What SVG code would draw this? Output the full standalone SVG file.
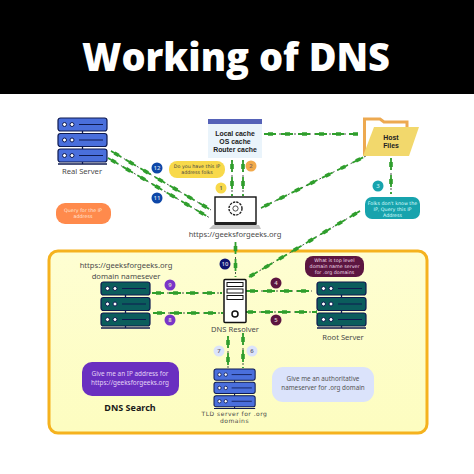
<svg xmlns="http://www.w3.org/2000/svg" width="474" height="474" viewBox="0 0 474 474">
<style>
text{font-family:"Noto Sans","Liberation Sans",sans-serif;text-anchor:middle}
.lbl{font-size:7.6px;fill:#4a4a4a}
.lb2{font-size:6px;fill:#4a4a4a;font-family:"DejaVu Sans",sans-serif;letter-spacing:.5px}
.sm{font-size:4.8px;font-family:"DejaVu Sans",sans-serif}
.b{font-size:6.9px;font-weight:700;fill:#222;font-family:"Liberation Sans",sans-serif}
.n{font-size:6px;font-weight:600}
.u path,.g path,.f path{fill:none}
.u path{stroke:#4a554a;stroke-width:1;stroke-dasharray:2 3}
.g path{stroke:#2f9e2c;stroke-width:1.8;stroke-dasharray:12 5}
.f path{stroke:#2f9e2c;stroke-width:3.6;stroke-dasharray:5 12;stroke-dashoffset:-4}
</style>
<defs>
<g id="srv" stroke="#0e1a50" stroke-width="1.2">
<line x1="24.5" y1="13" x2="24.5" y2="46" stroke-width="1.3"/>
<rect x="0" y="0" width="49" height="13" rx="2.5"/>
<rect x="0" y="15.5" width="49" height="13" rx="2.5"/>
<rect x="0" y="31" width="49" height="13" rx="2.5"/>
<line x1="0" y1="46" x2="49" y2="46" stroke-width="1.3"/>
<g fill="#fff" stroke-width="1">
<circle cx="6.500" cy="6.500" r="2"/><circle cx="14" cy="6.500" r="2"/>
<circle cx="6.500" cy="22" r="2"/><circle cx="14" cy="22" r="2"/>
<circle cx="6.500" cy="37.500" r="2"/><circle cx="14" cy="37.500" r="2"/>
</g>
<path d="M21 6.500H45M21 22H45M21 37.500H45" fill="none" stroke-width="1"/>
</g>
<linearGradient id="yel" x1="0" y1="0" x2="0" y2="1"><stop offset="0" stop-color="#fefed2"/><stop offset="1" stop-color="#fdfdc0"/></linearGradient>
</defs>
<rect width="474" height="474" fill="#fff"/>
<g id="title"><rect width="474" height="94" fill="#000"/>
<text x="236" y="71" font-size="38" font-weight="800" fill="#fff" style="font-family:'Open Sans','Liberation Sans',sans-serif" textLength="308" lengthAdjust="spacingAndGlyphs">Working of DNS</text></g>
<g id="search-panel"><rect x="49" y="251" width="378" height="182" rx="9" fill="url(#yel)" stroke="#f5b21e" stroke-width="3"/></g>

<g id="connectors">
<g class="u">
<path d="M111 151L211 210"/><path d="M108 158L210 218"/><path d="M264 134H358"/><path d="M261 208L366 156"/><path d="M391 158V194"/><path d="M360 211L249 277"/><path d="M235.500 242V277"/><path d="M232 160V196"/><path d="M243 160V196"/><path d="M152 293H222"/><path d="M153 313H223"/><path d="M246 291H312"/><path d="M244 312H317"/><path d="M228 336V368"/><path d="M243 333V368"/>
</g>
<g class="g">
<path d="M111 151L211 210"/><path d="M108 158L210 218"/><path d="M264 134H358"/><path d="M261 208L366 156"/><path d="M391 158V194"/><path d="M360 211L249 277"/><path d="M235.500 242V277"/><path d="M232 160V196"/><path d="M243 160V196"/><path d="M152 293H222"/><path d="M153 313H223"/><path d="M246 291H312"/><path d="M244 312H317"/><path d="M228 336V368"/><path d="M243 333V368"/>
</g>
<g class="f">
<path d="M111 151L211 210"/><path d="M108 158L210 218"/><path d="M264 134H358"/><path d="M261 208L366 156"/><path d="M391 158V194"/><path d="M360 211L249 277"/><path d="M235.500 242V277"/><path d="M232 160V196"/><path d="M243 160V196"/><path d="M152 293H222"/><path d="M153 313H223"/><path d="M246 291H312"/><path d="M244 312H317"/><path d="M228 336V368"/><path d="M243 333V368"/>
</g>
</g>

<g id="real-server"><use href="#srv" x="58" y="118" fill="#4a6fdc"/><text class="lbl" x="82" y="173.500">Real Server</text></g>
<g id="query-note"><rect x="56" y="203" width="55" height="21" rx="9" fill="#ff8a4c"/><text class="sm" x="83" y="212" fill="#ffe6d6">Query for the IP</text><text class="sm" x="83" y="218" fill="#ffe6d6">address</text></g>
<g id="cache"><rect x="208" y="119" width="54" height="39" fill="#eaf4fb"/><rect x="208" y="119" width="54" height="5" fill="#5562b8"/>
<text class="b" x="235" y="136">Local cache</text><text class="b" x="235" y="144">OS cache</text><text class="b" x="235" y="152">Router cache</text></g>
<g id="ask-note"><rect x="169" y="161" width="56" height="17" rx="8" fill="#f8d94a"/><text class="sm" x="197" y="168" fill="#444">Do you have this IP</text><text class="sm" x="197" y="174" fill="#444">address folks</text></g>
<g id="laptop"><rect x="215" y="197" width="41" height="27" fill="#fff" stroke="#111" stroke-width="1.4"/><rect x="215" y="222" width="41" height="3" fill="#222"/><path d="M213 225H259L261 229H209Z" fill="#c4c4c4"/>
<circle cx="235.500" cy="208.500" r="6.500" fill="none" stroke="#222" stroke-width="1.400" stroke-dasharray="2.400 1"/><circle cx="235.500" cy="208.500" r="2.600" fill="none" stroke="#222" stroke-width=".8"/>
<text class="lbl" x="235" y="237">https://geeksforgeeks.org</text></g>
<g id="host-files"><path d="M364.500 156V119H380L384 122H407V128" fill="#fff" stroke="#eda950" stroke-width="3"/><path d="M374 127H419L409 156H363Z" fill="#f2d86c"/>
<text class="b" x="391" y="140">Host</text><text class="b" x="391" y="148">Files</text></g>
<g id="host-note"><rect x="365" y="197" width="55" height="22" rx="7" fill="#17a3ad"/><g fill="#dff"><text class="sm" x="392.500" y="204.500">Folks don't know the</text><text class="sm" x="392.500" y="210.500">IP, Query this IP</text><text class="sm" x="392.500" y="216.500">Address</text></g></g>

<g id="domain-server"><use href="#srv" x="101" y="282" fill="#0b5d5c"/><text class="lbl" x="126" y="268">https://geeksforgeeks.org</text><text class="lbl" x="126" y="278.500">domain namesever</text></g>
<g id="dns-resolver"><rect x="224" y="279.500" width="22" height="43" rx="1" fill="#fff" stroke="#111" stroke-width="1.500"/><g fill="#fff" stroke="#111"><rect x="227" y="282.500" width="16" height="4"/><rect x="227" y="289" width="16" height="4"/><rect x="227" y="295.500" width="16" height="4"/><circle cx="235" cy="314" r="3" stroke-width="1.500"/></g>
<text class="lbl" x="235" y="331.500">DNS Resolver</text></g>
<g id="root-server"><use href="#srv" x="317" y="282" fill="#0b5d5c"/><text class="lbl" x="343" y="340">Root Server</text></g>
<g id="root-note"><rect x="305" y="256" width="59" height="21" rx="8" fill="#5c1540"/><g fill="#f0dcea"><text class="sm" x="334.500" y="262">What is top level</text><text class="sm" x="334.500" y="268">domain name server</text><text class="sm" x="334.500" y="274">for .org domains</text></g></g>
<g id="tld-server"><use href="#srv" transform="translate(214 369) scale(.84 .86)" fill="#4a6fdc"/><text class="lb2" x="234.500" y="416">TLD server for .org</text><text class="lb2" x="234.500" y="423">domains</text></g>
<g id="search-note"><rect x="82" y="362" width="97" height="34" rx="10" fill="#6a2fc0"/><g fill="#e2d4f6" font-size="6.400"><text x="130" y="376">Give me an IP address for</text><text x="130" y="385">https://geeksforgeeks.org</text></g></g>
<text x="130" y="410.500" font-size="9" font-weight="700" fill="#1a1a1a">DNS Search</text>
<g id="tld-note"><rect x="272" y="367" width="102" height="35" rx="11" fill="#dbe3fb"/><g fill="#555" font-size="6.300"><text x="323" y="381">Give me an authoritative</text><text x="323" y="390">nameserver for .org domain</text></g></g>

<g id="badges" class="n">
<g id="b12"><circle cx="157" cy="168" r="5.500" fill="#0d47a8"/><text x="157" y="170" fill="#cde">12</text></g>
<g id="b11"><circle cx="157" cy="198" r="5.500" fill="#0d47a8"/><text x="157" y="200" fill="#cde">11</text></g>
<g id="b1"><circle cx="221" cy="188" r="5.500" fill="#f8d94a"/><text x="221" y="190" fill="#665">1</text></g>
<g id="b2"><circle cx="251" cy="166" r="5.500" fill="#f2a94a"/><text x="251" y="168" fill="#865">2</text></g>
<g id="b3"><circle cx="378" cy="186" r="5.500" fill="#17a3ad"/><text x="378" y="188" fill="#bee">3</text></g>
<g id="b10"><circle cx="225" cy="264" r="5.500" fill="#0e1470"/><text x="225" y="266" fill="#ccd">10</text></g>
<g id="b9"><circle cx="170" cy="285" r="5.500" fill="#7a35c8"/><text x="170" y="287" fill="#ddc">9</text></g>
<g id="b8"><circle cx="170" cy="320" r="5.500" fill="#7a35c8"/><text x="170" y="322" fill="#ddc">8</text></g>
<g id="b4"><circle cx="276" cy="283" r="5.500" fill="#5c1540"/><text x="276" y="285" fill="#dcc">4</text></g>
<g id="b5"><circle cx="276" cy="320" r="5.500" fill="#5c1540"/><text x="276" y="322" fill="#dcc">5</text></g>
<g id="b7"><circle cx="219" cy="351" r="5.500" fill="#dbe3fb"/><text x="219" y="353" fill="#667">7</text></g>
<g id="b6"><circle cx="252" cy="351" r="5.500" fill="#dbe3fb"/><text x="252" y="353" fill="#667">6</text></g>
</g>
</svg>
